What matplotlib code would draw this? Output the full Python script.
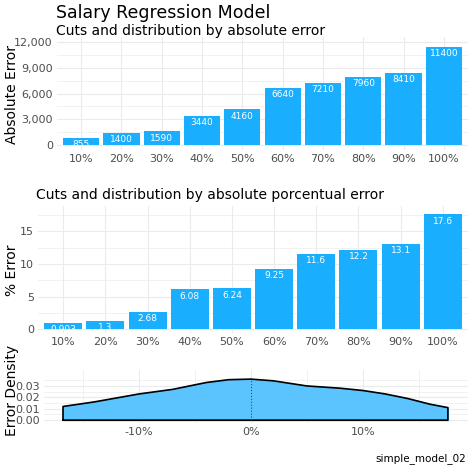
import matplotlib
matplotlib.use("Agg")
import matplotlib.pyplot as plt
import numpy as np

cats = ["10%","20%","30%","40%","50%","60%","70%","80%","90%","100%"]
abs_err = [855,1400,1590,3440,4160,6640,7210,7960,8410,11400]
abs_lbl = ["855","1400","1590","3440","4160","6640","7210","7960","8410","11400"]
pct_err = [0.903,1.3,2.68,6.08,6.24,9.25,11.6,12.2,13.1,17.6]
pct_lbl = ["0.903","1.3","2.68","6.08","6.24","9.25","11.6","12.2","13.1","17.6"]
dens_x = [-16.8,-14,-10,-7,-4,-2,0,2,5,8,10,12,14,16,17.6]
dens_y = [0.012,0.016,0.023,0.027,0.033,0.0355,0.036,0.0345,0.030,0.028,0.026,0.023,0.019,0.014,0.011]

W = H = 474
fig = plt.figure(figsize=(4.74,4.74), dpi=100)
BLUE = "#1AAEFF"
GRID = "#EBEBEB"

def ax_px(l, t, r, b):
    return fig.add_axes([l/W, 1-b/H, (r-l)/W, (b-t)/H])

def style(ax):
    for s in ax.spines.values(): s.set_visible(False)
    ax.tick_params(length=0, labelsize=8, colors="#4D4D4D", pad=3)
    ax.tick_params(which="minor", length=0)
    ax.grid(True, color=GRID, lw=0.8)
    ax.grid(True, which="minor", color=GRID, lw=0.5)
    ax.set_axisbelow(True)

x = np.arange(len(cats))
# Panel 1
a1 = ax_px(57, 37, 468, 150)
style(a1)
a1.bar(x, abs_err, width=0.9, color=BLUE)
for xi, v, l in zip(x, abs_err, abs_lbl):
    a1.text(xi, v - 250, l, ha="center", va="top", color="white", fontsize=6.5)
a1.set_xticks(x, cats)
a1.set_yticks([0,3000,6000,9000,12000], ["0","3,000","6,000","9,000","12,000"])
a1.set_yticks([1500,4500,7500,10500], minor=True)
a1.set_xlim(-0.6, 9.6); a1.set_ylim(-570, 12600)
fig.text(12/W, 1-95/H, "Absolute Error", fontsize=10, rotation=90, ha="center", va="center")
fig.text(56/W, 1-13/H, "Salary Regression Model", fontsize=12.5, va="center")
fig.text(56/W, 1-31/H, "Cuts and distribution by absolute error", fontsize=10, va="center")

# Panel 2
a2 = ax_px(38, 206, 468, 333)
style(a2)
a2.bar(x, pct_err, width=0.9, color=BLUE)
for xi, v, l in zip(x, pct_err, pct_lbl):
    a2.text(xi, v - 0.35, l, ha="center", va="top", color="white", fontsize=6.5)
a2.set_xticks(x, cats)
a2.set_yticks([0,5,10,15])
a2.set_yticks([2.5,7.5,12.5,17.5], minor=True)
a2.set_xlim(-0.6, 9.6); a2.set_ylim(-0.6, 18.9)
fig.text(12/W, 1-270/H, "% Error", fontsize=10, rotation=90, ha="center", va="center")
fig.text(36/W, 1-195/H, "Cuts and distribution by absolute porcentual error", fontsize=10, va="center")

# Panel 3
a3 = ax_px(44, 370, 468, 423)
style(a3)
a3.fill_between(dens_x, dens_y, color="#5BC4FF", alpha=1)
xs = [dens_x[0]] + dens_x + [dens_x[-1]]
ys = [0] + dens_y + [0]
a3.plot(xs + [dens_x[0]], ys + [0], color="black", lw=1.2)
a3.plot([0,0],[0,0.036], color="#1A4E80", lw=0.8, ls=":")
a3.set_xticks([-10,0,10], ["-10%","0%","10%"])
a3.set_yticks([0,0.01,0.02,0.03], ["0.00","0.01","0.02","0.03"])
a3.set_xticks([-15,-5,5,15], minor=True)
a3.set_yticks([0.005,0.015,0.025,0.035], minor=True)
a3.set_xlim(-18.5, 19.4); a3.set_ylim(-0.0025, 0.044)
fig.text(12/W, 1-390/H, "Error Density", fontsize=10, rotation=90, ha="center", va="center")
fig.text(466/W, 1-459/H, "simple_model_02", fontsize=7.5, ha="right", va="center")

fig.savefig("out.png", dpi=100, facecolor="white")
